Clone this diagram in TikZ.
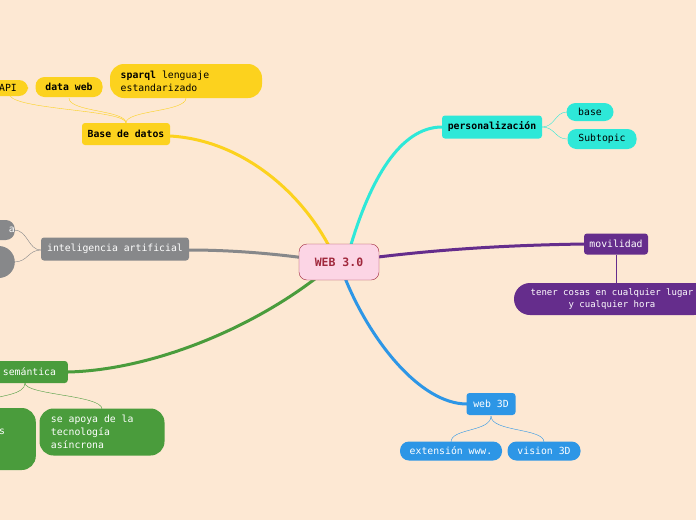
\documentclass[tikz,border=0pt]{standalone}
\usepackage{fontspec}
\setmonofont{DejaVu Sans Mono}
\begin{document}
\begin{tikzpicture}[x=1pt,y=-1pt,
  every node/.style={font=\ttfamily\fontsize{9.8}{13}\selectfont},
  box/.style={rounded corners=3pt,inner sep=0pt,align=center},
  pill/.style={rounded corners=9pt,inner sep=0pt,align=center},
  ylw/.style={fill=Y,text=black},
  cy/.style={fill=C,text=black},
  pu/.style={fill=P,text=white},
  gr/.style={fill=G,text=white},
  gn/.style={fill=N,text=white},
  bl/.style={fill=B,text=white}]
\definecolor{BG}{HTML}{FDE8D3}
\definecolor{Y}{HTML}{FCD21E}
\definecolor{C}{HTML}{2EE8D8}
\definecolor{P}{HTML}{652D8C}
\definecolor{G}{HTML}{87888A}
\definecolor{N}{HTML}{4A9C3C}
\definecolor{B}{HTML}{2D96E6}
\definecolor{R}{HTML}{A0283C}
\definecolor{PK}{HTML}{FCD5E5}
\fill[BG] (0,0) rectangle (696,520);
\clip (0,0) rectangle (696,520);
% main connectors
\draw[Y,line width=3pt] (330,248) .. controls (300,190) and (240,140) .. (170,136);
\draw[C,line width=3pt] (350,248) .. controls (370,180) and (400,127) .. (442,127);
\draw[P,line width=3pt] (370,258) .. controls (450,248) and (520,245) .. (584,244);
\draw[G,line width=3pt] (305,258) .. controls (260,252) and (220,250) .. (189,250);
\draw[N,line width=3pt] (320,275) .. controls (250,330) and (150,370) .. (68,372);
\draw[B,line width=3pt] (345,278) .. controls (370,340) and (420,404) .. (467,404);
% sub connectors
\draw[Y,thin] (126,123) .. controls (126,110) and (20,110) .. (10,96);
\draw[Y,thin] (126,123) .. controls (126,110) and (69,112) .. (69,98);
\draw[Y,thin] (126,123) .. controls (126,110) and (186,112) .. (186,98);
\draw[C,thin] (542,127) .. controls (555,127) and (555,112) .. (567,112);
\draw[C,thin] (542,127) .. controls (555,127) and (555,139) .. (567,139);
\draw[P,thin] (616,255) -- (616,283);
\draw[G,thin] (41,250) .. controls (28,250) and (28,230) .. (14,230);
\draw[G,thin] (41,250) .. controls (28,250) and (28,262) .. (14,262);
\draw[N,thin] (25,383) .. controls (25,395) and (0,395) .. (-10,400);
\draw[N,thin] (25,383) .. controls (25,395) and (102,395) .. (102,409);
\draw[B,thin] (491,416) .. controls (491,432) and (451,428) .. (451,442);
\draw[B,thin] (491,416) .. controls (491,432) and (544,428) .. (544,442);
% nodes
\node[box,draw=R,fill=PK,text=R,rounded corners=8pt,minimum width=80pt,minimum height=36pt,font=\ttfamily\bfseries\fontsize{11.5}{13}\selectfont] (w) at (339,262) {WEB 3.0};
\node[box,ylw,minimum width=88pt,minimum height=22pt] (bd) at (126,134) {\bfseries Base de datos};
\node[pill,ylw,minimum width=40pt,minimum height=16pt] (api) at (8,88) {API};
\node[pill,ylw,minimum width=67pt,minimum height=20pt] (dw) at (69,87) {\bfseries data web};
\node[pill,ylw,rounded corners=14pt,minimum width=152pt,minimum height=34pt,align=left] (sp) at (186,81) {\bfseries sparql\mdseries{} lenguaje\\estandarizado\hspace*{5.5em}};
\node[box,cy,minimum width=100pt,minimum height=23pt] (pe) at (492,127) {\bfseries personalización};
\node[pill,cy,minimum width=47pt,minimum height=18pt] (ba) at (590,112) {base};
\node[pill,cy,minimum width=69pt,minimum height=20pt] (su) at (602,139) {Subtopic};
\node[box,pu,minimum width=64pt,minimum height=21pt] (mo) at (616,244) {movilidad};
\node[pill,pu,rounded corners=16pt,minimum width=196pt,minimum height=32pt,font=\ttfamily\fontsize{9}{12}\selectfont] (te) at (612,299) {tener cosas en cualquier lugar\\y cualquier hora};
\node[box,gr,minimum width=148pt,minimum height=23pt] (ia) at (115,249) {inteligencia artificial};
\node[pill,gr,minimum width=40pt,minimum height=20pt,anchor=east] (g1) at (15,230) {\hspace*{3.5em}a};
\node[pill,gr,rounded corners=16pt,minimum width=50pt,minimum height=32pt,anchor=east] (g2) at (15,262) {};
\node[box,gn,minimum width=110pt,minimum height=22pt,anchor=east] (ws) at (68,372) {\hspace*{1em}web semántica};
\node[pill,gn,rounded corners=14pt,minimum width=80pt,minimum height=62pt,anchor=east] (g3) at (36,439) {};
\node[text=white] at (2,432) {s};
\node[pill,gn,rounded corners=14pt,minimum width=125pt,minimum height=47pt,align=left] (ap) at (102,432) {se apoya de la\\tecnología\\asíncrona\hspace*{5em}};
\node[box,bl,minimum width=49pt,minimum height=22pt] (w3) at (491,404) {web 3D};
\node[pill,bl,minimum width=102pt,minimum height=19pt] (ex) at (451,451) {extensión www.};
\node[pill,bl,minimum width=73pt,minimum height=19pt] (vi) at (544,451) {vision 3D};
\end{tikzpicture}
\end{document}
